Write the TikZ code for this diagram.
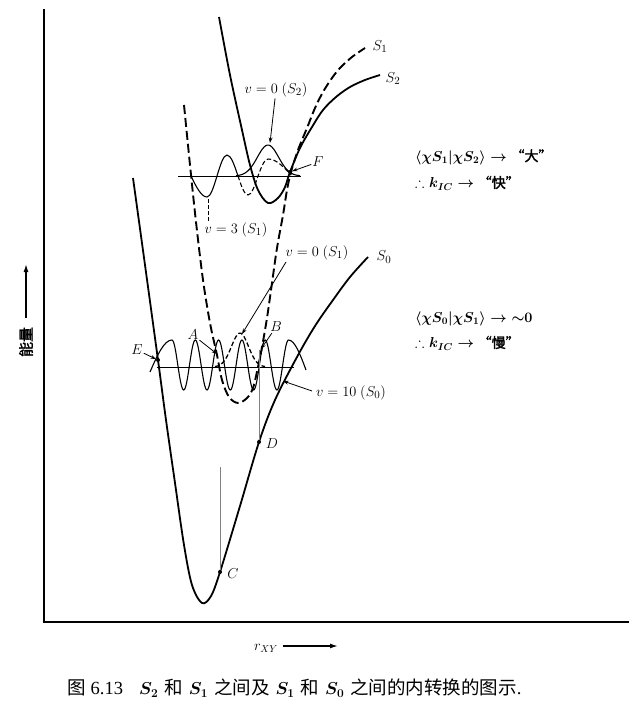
\documentclass[tikz,border=0pt]{standalone}
\usepackage{amssymb}
\usepackage{fontspec}
\setmainfont{Liberation Serif}
\newfontfamily\cjk{Noto Sans CJK SC}[AutoFakeBold=2]
\usetikzlibrary{arrows.meta}
\begin{document}
\begin{tikzpicture}[x=1pt,y=-1pt,
  pot/.style={line width=1.8pt, line join=round},
  dpot/.style={line width=1.9pt, dash pattern=on 9pt off 4pt},
  wave/.style={line width=1.1pt},
  dwave/.style={line width=1.1pt, dash pattern=on 4.5pt off 2.5pt},
  level/.style={line width=0.8pt},
  axisline/.style={line width=1.7pt},
  ptr/.style={line width=0.8pt,-{Stealth[length=5.5pt,width=3.8pt]}},
  plain/.style={line width=0.8pt},
  vline/.style={line width=0.6pt, black!50},
  lbl/.style={inner sep=1pt, font=\fontsize{15}{17}\selectfont},
  big/.style={inner sep=1pt, anchor=west, font=\fontsize{14}{16}\selectfont\bfseries\boldmath},
  dot/.style={circle, fill=black, inner sep=0pt, minimum size=4pt}
]
\useasboundingbox (0,0) rectangle (629,706);

% axes
\coordinate (ytop) at (44,9);
\coordinate (origin) at (44,622);
\coordinate (xend) at (629,622);
\draw[axisline] (ytop) -- (origin) -- (xend);

% axis labels
\node[rotate=90, inner sep=0pt, font=\fontsize{15}{17}\selectfont\cjk\bfseries] (ylab) at (26,342) {能量};
\coordinate (yarA) at (26,318);
\coordinate (yarB) at (26,264);
\draw[line width=1.4pt,-{Latex[length=8pt,width=5pt]}] (yarA) -- (yarB);
\node[lbl, font=\fontsize{14}{16}\selectfont] (xlab) at (266,648) {$r_{XY}$};
\coordinate (xarA) at (283,646);
\coordinate (xarB) at (338,646);
\draw[line width=1.4pt,-{Latex[length=8pt,width=5pt]}] (xarA) -- (xarB);

% S0 potential
\draw[pot] plot[smooth, tension=0.55] coordinates {(133,178) (145,265) (158,360) (166,420) (175,483) (184,545) (192,585) (202,603) (211,596) (220,572) (240,506) (259,442) (275,400) (297,357) (315,326) (333,300) (350,277) (368,257)};

% S2 potential
\draw[pot] plot[smooth, tension=0.55] coordinates {(219,17) (230,75) (242,130) (250,165) (258,190) (268,203) (278,198) (285,187) (290,172) (300,148) (312,127) (323,110) (336,97) (350,87) (365,80) (380,75)};

% S1 potential (dashed)
\draw[dpot] plot[smooth, tension=0.55] coordinates {(184,105) (190,165) (196,222) (203,280) (210,323) (217,355) (222,380) (229,397) (238,403) (247,398) (253,388) (258,367) (262,347) (267,318) (272,283) (277,248) (283,215) (287,190) (291,172) (298,150) (307,128) (315,108) (323,92) (332,78) (340,68) (352,57) (365,48)};

% energy levels
\coordinate (topL) at (178,176);
\coordinate (topR) at (301,176);
\draw[level] (topL) -- (topR);
\coordinate (botL) at (157,367);
\coordinate (botR) at (294,367);
\draw[level] (botL) -- (botR);

% v=3 (S1) wavefunction
\draw[wave] (191,176) sin (207,197) cos (217,176) sin (227,155) cos (238,176);
\draw[dwave] (238,176) sin (248,195) cos (258,176) sin (268,159) cos (291,175);

% v=0 (S2) wavefunction
\draw[wave] plot[smooth, samples=40, domain=236:300] (\x, {176-31*exp(-((\x-268)/15)^2)});

% v=0 (S1) wavefunction (dashed)
\draw[dwave, line width=1.3pt] plot[smooth, samples=30, domain=215:265] (\x, {367-34*exp(-((\x-240)/12)^2)});

% v=10 (S0) wavefunction
\draw[wave] (150,372) sin (172,340) cos (177.8,365) sin (183.7,390) cos (189.5,365)
  sin (195.3,340) cos (201.1,365) sin (207,390) cos (212.8,365)
  sin (218.6,340) cos (224.4,365) sin (230.3,390) cos (236.1,365)
  sin (241.9,340) cos (247.7,365) sin (253.6,390) cos (259.4,365)
  sin (265.2,340) cos (271,365) sin (276.9,390) cos (282.7,365)
  sin (288.5,340) cos (306,370);

% points
\node[dot] (E) at (158,360) {};
\node[dot] (C) at (220,572) {};
\node[dot] (D) at (259,442) {};
\node[dot] (F) at (290,172) {};
\coordinate (A) at (217,354);
\coordinate (B) at (261,349);
\coordinate (Bfoot) at (259,350);
\coordinate (Ctop) at (220,467);

% vertical transition lines
\draw[vline] (Bfoot) -- (D);
\draw[vline] (Ctop) -- (C);

% point labels
\node[lbl] (Elbl) at (137,350) {$E$};
\draw[ptr] (Elbl) -- (E);
\node[lbl] (Albl) at (193,335) {$A$};
\draw[ptr] (Albl) -- (A);
\node[lbl] (Blbl) at (276,327) {$B$};
\draw[ptr] (Blbl) -- (B);
\node[lbl] (Flbl) at (318,162) {$F$};
\draw[ptr] (Flbl) -- (F);
\node[lbl] (Clbl) at (233,574) {$C$};
\node[lbl] (Dlbl) at (272,444) {$D$};

% curve labels
\node[lbl] (S0lbl) at (384,257) {$S_0$};
\node[lbl] (S1lbl) at (380,47) {$S_1$};
\node[lbl] (S2lbl) at (393,79) {$S_2$};

% level labels
\node[lbl] (v0S2) at (276,90) {$v=0\ (S_2)$};
\coordinate (v0S2tip) at (270,143);
\draw[ptr] (v0S2) -- (v0S2tip);
\node[lbl] (v3S1) at (236,230) {$v=3\ (S_1)$};
\coordinate (v3S1a) at (208,221);
\coordinate (v3S1b) at (208,199);
\draw[plain, dash pattern=on 4pt off 2pt] (v3S1a) -- (v3S1b);
\node[lbl] (v0S1) at (317,253) {$v=0\ (S_1)$};
\coordinate (v0S1a) at (286,262);
\coordinate (v0S1b) at (242,334);
\draw[ptr] (v0S1a) -- (v0S1b);
\node[lbl] (v10S0) at (351,393) {$v=10\ (S_0)$};
\coordinate (v10a) at (312,391);
\coordinate (v10b) at (283,381);
\draw[ptr] (v10a) -- (v10b);

% right-hand statements
\node[big] (t1) at (414,157) {$\langle\chi S_1|\chi S_2\rangle\rightarrow$ {\cjk“大”}};
\node[big] (t2) at (414,183) {$\therefore k_{IC}\rightarrow$ {\cjk“快”}};
\node[big] (t3) at (414,319) {$\langle\chi S_0|\chi S_1\rangle\rightarrow{\sim}0$};
\node[big] (t4) at (414,343) {$\therefore k_{IC}\rightarrow$ {\cjk“慢”}};

% caption
\node[anchor=west, inner sep=0pt, font=\fontsize{18.5}{20}\selectfont] (cap) at (67,688)
  {{\cjk 图}\hspace{5pt}6.13\hspace{16pt}{\boldmath$S_2$}\hspace{6pt}{\cjk 和}\hspace{6pt}{\boldmath$S_1$}\hspace{6pt}{\cjk 之间及}\hspace{6pt}{\boldmath$S_1$}\hspace{6pt}{\cjk 和}\hspace{6pt}{\boldmath$S_0$}\hspace{6pt}{\cjk 之间的内转换的图示}.};
\end{tikzpicture}
\end{document}
